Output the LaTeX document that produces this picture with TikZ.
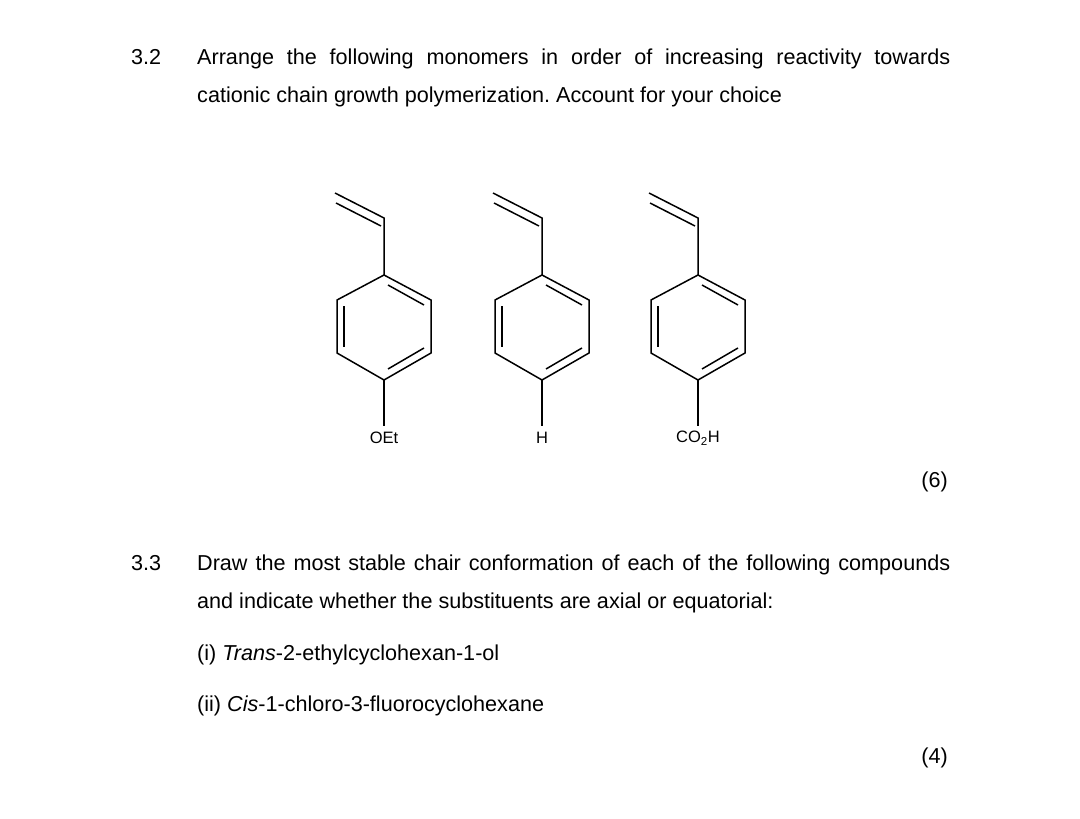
\documentclass[tikz,border=0pt]{standalone}
\usepackage{fontspec}
\setmainfont{Liberation Sans}
\frenchspacing
\begin{document}
\begin{tikzpicture}[x=1pt,y=-1pt,
  txt/.style={inner sep=0pt,anchor=base west,font=\fontsize{21.6}{38}\selectfont},
  lbl/.style={inner sep=0pt,font=\fontsize{16.5}{18}\selectfont},
  bond/.style={line width=1.5pt}]
\useasboundingbox (0,0) rectangle (1080,819);
\node[txt] (n32) at (131,64) {3.2};
\node[txt,anchor=north west,text width=753pt,align=justify] (t32) at (197,49) {Arrange the following monomers in order of increasing reactivity towards\linebreak cationic chain growth polymerization. Account for your choice};
\node[txt,anchor=base east] (s6) at (948,487) {(6)};
\node[txt] (n33) at (131,570) {3.3};
\node[txt,anchor=north west,text width=753pt,align=justify] (t33) at (197,555) {Draw the most stable chair conformation of each of the following compounds\linebreak and indicate whether the substituents are axial or equatorial:};
\node[txt] (i1) at (197,660) {(i) \textit{Trans}-2-ethylcyclohexan-1-ol};
\node[txt] (i2) at (197,711) {(ii) \textit{Cis}-1-chloro-3-fluorocyclohexane};
\node[txt,anchor=base east] (s4) at (948,763) {(4)};
\foreach \cx/\lab/\nm in {384/OEt/a,542/H/b,698/{CO\textsubscript{2}H}/c}{
  \begin{scope}[shift={(\cx,0)}]
  \coordinate (\nm v1) at (-49,193);
  \coordinate (\nm v2) at (0,218);
  \coordinate (\nm r1) at (0,275);
  \coordinate (\nm r2) at (47,300);
  \coordinate (\nm r3) at (47,353);
  \coordinate (\nm r4) at (0,380);
  \coordinate (\nm r5) at (-47,353);
  \coordinate (\nm r6) at (-47,300);
  \node[lbl] (\nm L) at (0,438) {\lab};
  \draw[bond] (\nm v1)--(\nm v2)--(\nm r1);
  \draw[bond] (\nm r1)--(\nm r2)--(\nm r3)--(\nm r4)--(\nm r5)--(\nm r6)--cycle;
  \draw[bond] (\nm r4)--(0,426);
  \draw[bond] (-48,203)--(-3,226);
  \draw[bond] (4,285)--(40,305);
  \draw[bond] (-40,306)--(-40,347);
  \draw[bond] (40,348)--(4,369);
  \end{scope}}
\end{tikzpicture}
\end{document}
